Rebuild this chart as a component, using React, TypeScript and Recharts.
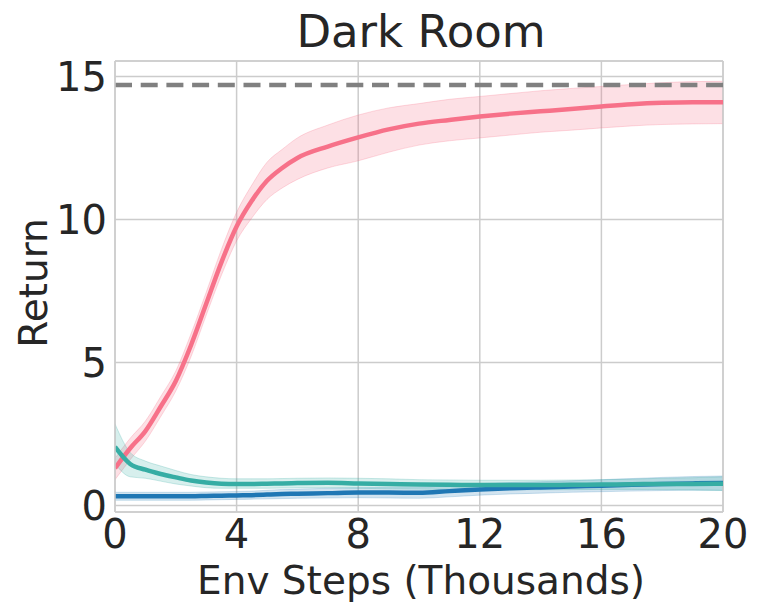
import React from 'react';
import { Area, CartesianGrid, ComposedChart, Line, ReferenceLine, XAxis, YAxis } from 'recharts';

const steps = [0, 0.5, 1, 1.5, 2, 2.5, 3, 3.5, 4, 4.5, 5, 5.5, 6, 7, 8, 9, 10, 11, 12, 13, 14, 15, 16, 17, 18, 19, 20];

const pinkMean = [1.3, 2.0, 2.6, 3.45, 4.35, 5.6, 7.05, 8.5, 9.75, 10.65, 11.35, 11.8, 12.15, 12.55, 12.87, 13.15, 13.35, 13.48, 13.6, 13.7, 13.78, 13.86, 13.95, 14.03, 14.08, 14.1, 14.1];
const pinkLow = [0.9, 1.6, 2.25, 3.1, 4.0, 5.2, 6.65, 8.05, 9.25, 10.05, 10.7, 11.1, 11.4, 11.8, 12.05, 12.35, 12.6, 12.75, 12.85, 12.95, 13.05, 13.12, 13.2, 13.27, 13.32, 13.34, 13.35];
const pinkHigh = [1.65, 2.35, 2.95, 3.8, 4.7, 6.0, 7.45, 8.95, 10.25, 11.2, 12.0, 12.45, 12.85, 13.3, 13.65, 13.9, 14.05, 14.2, 14.3, 14.4, 14.5, 14.58, 14.65, 14.72, 14.78, 14.82, 14.83];

const tealMean = [2.05, 1.45, 1.25, 1.1, 0.98, 0.87, 0.8, 0.76, 0.75, 0.75, 0.76, 0.77, 0.78, 0.79, 0.77, 0.75, 0.73, 0.72, 0.71, 0.71, 0.71, 0.72, 0.73, 0.74, 0.75, 0.75, 0.76];
const tealLow = [1.45, 1.0, 0.95, 0.85, 0.75, 0.68, 0.62, 0.6, 0.6, 0.6, 0.6, 0.61, 0.62, 0.62, 0.6, 0.58, 0.57, 0.56, 0.55, 0.55, 0.55, 0.55, 0.56, 0.56, 0.55, 0.54, 0.52];
const tealHigh = [2.85, 1.85, 1.55, 1.38, 1.22, 1.08, 1.0, 0.95, 0.93, 0.93, 0.93, 0.94, 0.95, 0.96, 0.95, 0.93, 0.9, 0.89, 0.88, 0.88, 0.88, 0.89, 0.9, 0.92, 0.95, 0.97, 1.0];

const blueMean = [0.32, 0.32, 0.32, 0.32, 0.32, 0.32, 0.33, 0.34, 0.35, 0.36, 0.38, 0.4, 0.41, 0.43, 0.45, 0.45, 0.44, 0.5, 0.56, 0.6, 0.63, 0.66, 0.69, 0.72, 0.75, 0.77, 0.78];
const blueLow = [0.18, 0.18, 0.18, 0.18, 0.18, 0.18, 0.19, 0.2, 0.21, 0.22, 0.23, 0.24, 0.25, 0.26, 0.27, 0.26, 0.25, 0.3, 0.36, 0.4, 0.43, 0.46, 0.48, 0.5, 0.52, 0.53, 0.53];
const blueHigh = [0.46, 0.46, 0.46, 0.46, 0.46, 0.46, 0.47, 0.48, 0.49, 0.5, 0.53, 0.56, 0.57, 0.6, 0.62, 0.63, 0.63, 0.7, 0.76, 0.8, 0.83, 0.86, 0.9, 0.94, 0.98, 1.01, 1.03];

const optimum = 14.7;
const xTicks = [0, 4, 8, 12, 16, 20];
const yTicks = [0, 5, 10, 15];
const yDomain: [number, number] = [-0.23, 15.54];

const data = steps.map((x, i) => ({
  x,
  pink: pinkMean[i],
  pinkBand: [pinkLow[i], pinkHigh[i]],
  teal: tealMean[i],
  tealBand: [tealLow[i], tealHigh[i]],
  blue: blueMean[i],
  blueBand: [blueLow[i], blueHigh[i]],
}));

const PINK = '#f77189';
const TEAL = '#36ada4';
const BLUE = '#1f77b4';
const GRID = '#cccccc';
const TEXT = '#262626';
const FONT = '"DejaVu Sans", sans-serif';

const tickStyle = { fontSize: 40, fill: TEXT, fontFamily: FONT };

export default function App() {
  return (
    <div style={{ position: 'absolute', left: 0, top: 0, width: 762, height: 616, background: '#fff' }}>
      <ComposedChart width={762} height={616} data={data} margin={{ top: 61, right: 39, bottom: 0, left: 0 }}>
        <CartesianGrid stroke={GRID} strokeWidth={1.5} />
        <XAxis
          dataKey="x"
          type="number"
          domain={[0, 20]}
          ticks={xTicks}
          allowDataOverflow
          height={104}
          tickLine={false}
          tickSize={0}
          tickMargin={8}
          axisLine={{ stroke: GRID, strokeWidth: 1.5 }}
          tick={tickStyle}
        />
        <YAxis
          type="number"
          domain={yDomain}
          ticks={yTicks}
          allowDataOverflow
          width={115}
          tickLine={false}
          tickSize={0}
          tickMargin={8}
          axisLine={{ stroke: GRID, strokeWidth: 1.5 }}
          tick={tickStyle}
        />
        <ReferenceLine y={yDomain[1]} stroke={GRID} strokeWidth={1.5} />
        <ReferenceLine x={20} stroke={GRID} strokeWidth={1.5} />

        <Area dataKey="pinkBand" type="monotone" fill={PINK} fillOpacity={0.22} stroke={PINK} strokeOpacity={0.25} strokeWidth={1} isAnimationActive={false} activeDot={false} />
        <Area dataKey="blueBand" type="monotone" fill={BLUE} fillOpacity={0.2} stroke={BLUE} strokeOpacity={0.2} strokeWidth={1} isAnimationActive={false} activeDot={false} />
        <Area dataKey="tealBand" type="monotone" fill={TEAL} fillOpacity={0.2} stroke={TEAL} strokeOpacity={0.25} strokeWidth={1} isAnimationActive={false} activeDot={false} />

        <Line dataKey="pink" type="monotone" stroke={PINK} strokeWidth={4.5} dot={false} activeDot={false} isAnimationActive={false} />
        <Line dataKey="blue" type="monotone" stroke={BLUE} strokeWidth={4.5} dot={false} activeDot={false} isAnimationActive={false} />
        <Line dataKey="teal" type="monotone" stroke={TEAL} strokeWidth={4.5} dot={false} activeDot={false} isAnimationActive={false} />

        <ReferenceLine y={optimum} stroke="#808080" strokeWidth={4.5} strokeDasharray="17 8.7" />
      </ComposedChart>
      <svg width={762} height={616} style={{ position: 'absolute', left: 0, top: 0, pointerEvents: 'none' }}>
        <text x={421} y={47} textAnchor="middle" fontSize={45} fill={TEXT} fontFamily={FONT}>
          Dark Room
        </text>
        <text x={421} y={594} textAnchor="middle" fontSize={39} fill={TEXT} fontFamily={FONT}>
          Env Steps (Thousands)
        </text>
        <text x={47} y={283} textAnchor="middle" fontSize={39} fill={TEXT} fontFamily={FONT} transform="rotate(-90 47 283)">
          Return
        </text>
      </svg>
    </div>
  );
}
